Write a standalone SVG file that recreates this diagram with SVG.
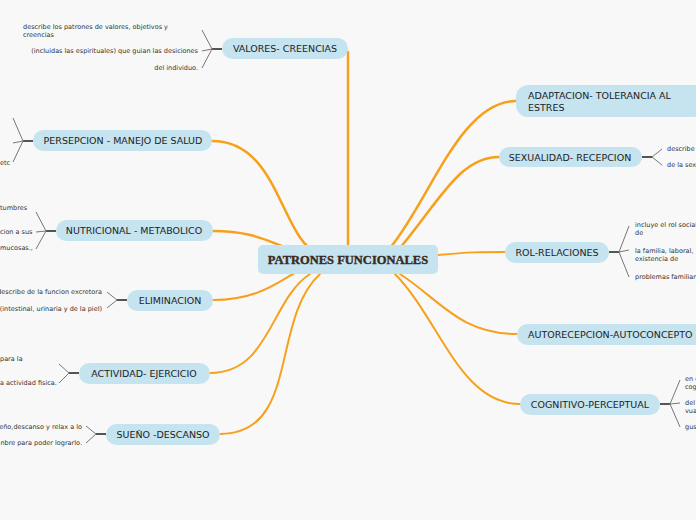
<svg xmlns="http://www.w3.org/2000/svg" width="696" height="520" viewBox="0 0 696 520">
<style>
.n{fill:#c5e4f0}
.t{font-family:"DejaVu Sans",sans-serif;font-size:9.5px;fill:#222}
.s{font-family:"DejaVu Sans",sans-serif;font-size:6.5px;fill:#333}
.c{fill:none;stroke:#f7a01c;stroke-linecap:round}
.f{fill:none;stroke:#777;stroke-width:1}
.h{stroke:#555;stroke-width:2}
</style>
<rect width="696" height="520" fill="#f8f8f8"/>
<g id="connectors">
<path class="c" stroke-width="2.5" d="M348,250 C348,150 348,80 348,52"/>
<path class="c" stroke-width="2.5" d="M320,255 C280,240 280,141 212,141"/>
<path class="c" stroke-width="2.5" d="M310,255 C270,245 260,231 213,231"/>
<path class="c" stroke-width="2" d="M300,270 C280,280 260,300 213,300"/>
<path class="c" stroke-width="2" d="M310,274 C270,300 270,373 210,373"/>
<path class="c" stroke-width="2" d="M320,274 C270,320 300,434 220,434"/>
<path class="c" stroke-width="2.5" d="M390,248 C430,200 460,101 516,101"/>
<path class="c" stroke-width="2.5" d="M400,248 C440,200 460,157 499,157"/>
<path class="c" stroke-width="2" d="M438,255 C470,252 480,252 505,252"/>
<path class="c" stroke-width="2" d="M400,274 C440,300 460,334 517,334"/>
<path class="c" stroke-width="2" d="M395,274 C440,320 460,404 520,404"/>
</g>
<g id="center">
<rect x="258" y="245" width="180" height="29" rx="5" class="n"/>
<text x="348" y="264" text-anchor="middle" style="font-family:'Liberation Serif',serif;font-weight:bold;font-size:12.5px;fill:#3a2a20;stroke:#3a2a20;stroke-width:0.4">PATRONES FUNCIONALES</text>
</g>
<g id="valores">
<rect x="222" y="38" width="126" height="21" rx="10.5" class="n"/>
<text x="285" y="52" text-anchor="middle" class="t">VALORES- CREENCIAS</text>
<path class="h" d="M222,49 H212"/>
<path class="f" d="M202,30 L212,49 L202,68 M212,49 L202,51"/>
<text x="23" y="29" class="s">describe los patrones de valores, objetivos y</text>
<text x="23" y="37" class="s">creencias</text>
<text x="198" y="53" text-anchor="end" class="s">(incluidas las espirituales) que guian las desiciones</text>
<text x="198" y="70" text-anchor="end" class="s">del individuo.</text>
</g>
<g id="persepcion">
<rect x="33" y="130" width="179" height="21" rx="10.5" class="n"/>
<text x="123" y="144" text-anchor="middle" class="t">PERSEPCION - MANEJO DE SALUD</text>
<path class="h" d="M33,141 H23"/>
<path class="f" d="M13,118 L23,141 L13,162 M23,141 L13,143"/>
<text x="0" y="165" class="s">etc</text>
</g>
<g id="nutricional">
<rect x="56" y="220" width="157" height="21" rx="10.5" class="n"/>
<text x="134" y="234" text-anchor="middle" class="t">NUTRICIONAL - METABOLICO</text>
<path class="h" d="M56,231 H46"/>
<path class="f" d="M36,212 L46,231 L36,249 M46,231 L36,232"/>
<text x="0" y="210" class="s">tumbres</text>
<text x="0" y="234" class="s">cion a sus</text>
<text x="0" y="250" class="s">mucosas.,</text>
</g>
<g id="eliminacion">
<rect x="127" y="290" width="86" height="21" rx="10.5" class="n"/>
<text x="170" y="304" text-anchor="middle" class="t">ELIMINACION</text>
<path class="h" d="M127,300 H117"/>
<path class="f" d="M107,292 L117,300 L107,308"/>
<text x="102" y="294" text-anchor="end" class="s">describe de la funcion excretora</text>
<text x="102" y="311" text-anchor="end" class="s">(intestinal, urinaria y de la piel)</text>
</g>
<g id="actividad">
<rect x="79" y="363" width="131" height="21" rx="10.5" class="n"/>
<text x="144" y="377" text-anchor="middle" class="t">ACTIVIDAD- EJERCICIO</text>
<path class="h" d="M79,373 H69"/>
<path class="f" d="M59,364 L69,373 L59,383"/>
<text x="0" y="361" class="s"> para la</text>
<text x="0" y="385" class="s">a actividad fisica.</text>
</g>
<g id="sueno">
<rect x="106" y="424" width="114" height="21" rx="10.5" class="n"/>
<text x="163" y="438" text-anchor="middle" class="t">SUEÑO -DESCANSO</text>
<path class="h" d="M106,434 H96"/>
<path class="f" d="M86,426 L96,434 L86,443"/>
<text x="82" y="429" text-anchor="end" class="s">eño,descanso y relax a lo</text>
<text x="82" y="445" text-anchor="end" class="s">nbre para poder lograrlo.</text>
</g>
<g id="adaptacion">
<rect x="516" y="85" width="190" height="32" rx="12" class="n"/>
<text x="528" y="99" class="t">ADAPTACION- TOLERANCIA AL</text>
<text x="528" y="111" class="t">ESTRES</text>
</g>
<g id="sexualidad">
<rect x="499" y="147" width="143" height="20" rx="10" class="n"/>
<text x="570" y="161" text-anchor="middle" class="t">SEXUALIDAD- RECEPCION</text>
<path class="h" d="M642,157 H652"/>
<path class="f" d="M662,149 L652,157 L662,165"/>
<text x="667" y="151" class="s">describe</text>
<text x="667" y="167" class="s">de la sexu</text>
</g>
<g id="rol">
<rect x="505" y="242" width="104" height="21" rx="10.5" class="n"/>
<text x="557" y="256" text-anchor="middle" class="t">ROL-RELACIONES</text>
<path class="h" d="M609,252 H619"/>
<path class="f" d="M629,226 L619,252 L629,277 M619,252 L629,250"/>
<text x="635" y="227" class="s">incluye el rol social</text>
<text x="635" y="235" class="s">de</text>
<text x="635" y="253" class="s">la familia, laboral,</text>
<text x="635" y="261" class="s">existencia de</text>
<text x="635" y="279" class="s">problemas familiares</text>
</g>
<g id="autorecepcion">
<rect x="517" y="324" width="190" height="21" rx="10.5" class="n"/>
<text x="528" y="338" class="t">AUTORECEPCION-AUTOCONCEPTO</text>
</g>
<g id="cognitivo">
<rect x="520" y="394" width="140" height="21" rx="10.5" class="n"/>
<text x="590" y="408" text-anchor="middle" class="t">COGNITIVO-PERCEPTUAL</text>
<path class="h" d="M660,404 H670"/>
<path class="f" d="M680,380 L670,404 L680,427 M670,404 L680,403"/>
<text x="685" y="381" class="s">en e</text>
<text x="685" y="389" class="s">cog</text>
<text x="685" y="405" class="s">del</text>
<text x="685" y="413" class="s">vua</text>
<text x="685" y="429" class="s">gus</text>
</g>
</svg>
